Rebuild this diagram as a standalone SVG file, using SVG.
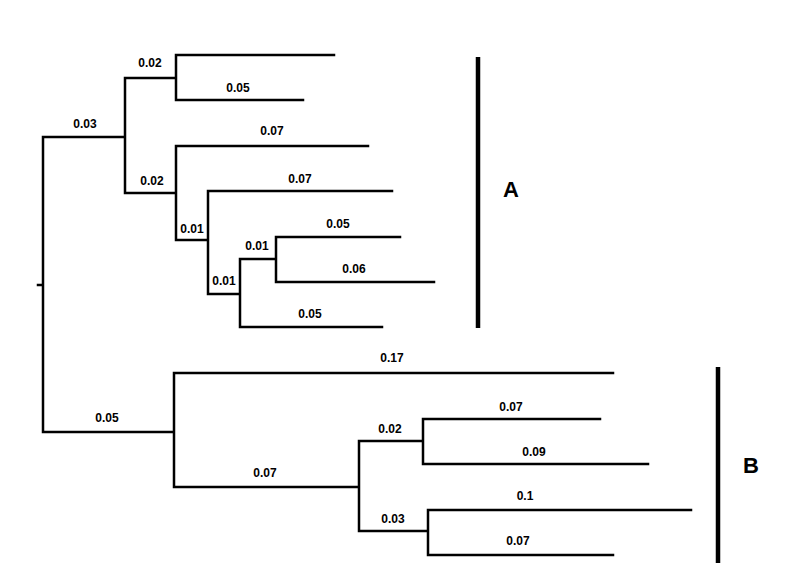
<svg xmlns="http://www.w3.org/2000/svg" width="786" height="574" viewBox="0 0 786 574">
<style>
.e{stroke:#000;stroke-width:2.5;fill:none;stroke-linecap:square}
.l{font-family:"Liberation Sans",Arial,sans-serif;font-size:12px;font-weight:bold;text-anchor:middle}
.c{font-family:"Liberation Sans",Arial,sans-serif;font-size:22px;font-weight:bold;text-anchor:middle}
</style>
<rect width="786" height="574" fill="#fff"/>
<g id="connectors">
<path class="e" d="M38,285H43M43,137V432M43,137H125M43,432H174
M125,78V193M125,78H176M176,55V100M176,55H334M176,100H303
M125,193H176M176,146V240M176,146H368M176,240H208M208,191V294M208,191H392M208,294H240M240,259V327M240,259H276M276,237V282M276,237H400M276,282H434M240,327H382
M174,373V487M174,373H613M174,487H359M359,441V531M359,441H423M423,419V464M423,419H600M423,464H648M359,531H428M428,510V555M428,510H691M428,555H613"/>
</g>
<g id="cladeA"><line x1="478" y1="57" x2="478" y2="328" stroke="#000" stroke-width="4.5"/><text class="c" x="511" y="197">A</text></g>
<g id="cladeB"><line x1="718" y1="367" x2="718" y2="563" stroke="#000" stroke-width="4.5"/><text class="c" x="751" y="473">B</text></g>
<g id="labels">
<text class="l" x="150" y="67">0.02</text>
<text class="l" x="238" y="92">0.05</text>
<text class="l" x="85" y="128">0.03</text>
<text class="l" x="272" y="135">0.07</text>
<text class="l" x="152" y="185">0.02</text>
<text class="l" x="300" y="183">0.07</text>
<text class="l" x="192" y="233">0.01</text>
<text class="l" x="338" y="228">0.05</text>
<text class="l" x="257" y="250">0.01</text>
<text class="l" x="354" y="273">0.06</text>
<text class="l" x="224" y="285">0.01</text>
<text class="l" x="310" y="318">0.05</text>
<text class="l" x="392" y="362">0.17</text>
<text class="l" x="107" y="422">0.05</text>
<text class="l" x="511" y="411">0.07</text>
<text class="l" x="390" y="433">0.02</text>
<text class="l" x="534" y="456">0.09</text>
<text class="l" x="265" y="477">0.07</text>
<text class="l" x="525" y="500">0.1</text>
<text class="l" x="393" y="523">0.03</text>
<text class="l" x="518" y="545">0.07</text>
</g>
</svg>
